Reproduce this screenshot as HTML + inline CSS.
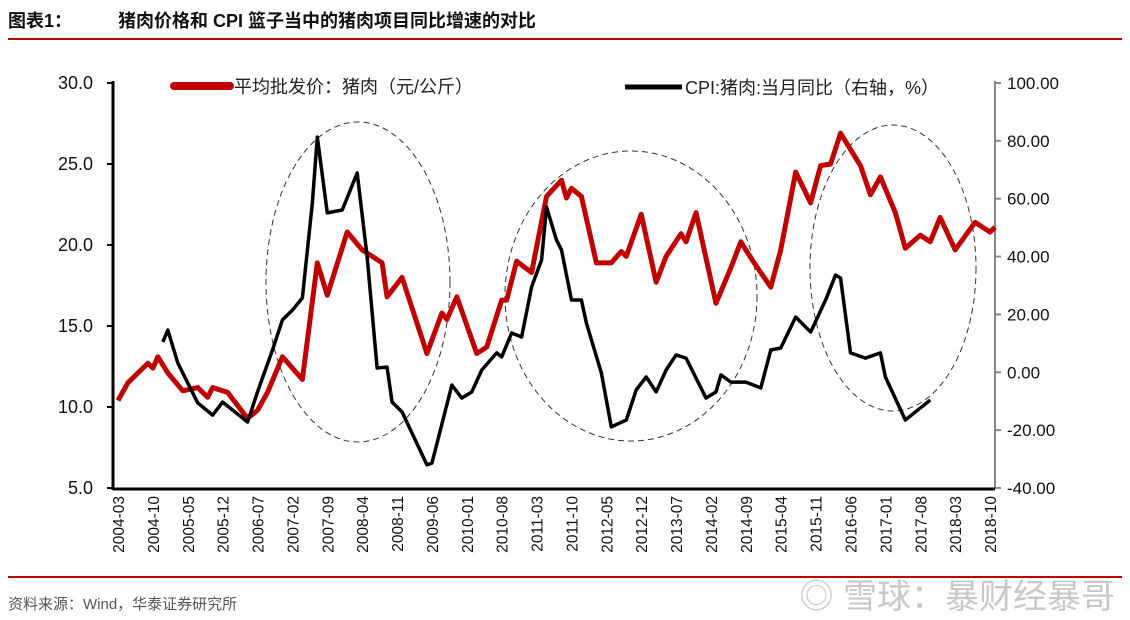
<!DOCTYPE html>
<html><head><meta charset="utf-8">
<style>
body{margin:0;background:#fff;width:1130px;height:620px;overflow:hidden;font-family:"Liberation Sans","Noto Sans CJK SC",sans-serif;}
svg{position:absolute;left:0;top:0}
</style></head>
<body>
<svg id="c" width="1130" height="620">
<text x="8" y="27" font-size="18" font-weight="bold" fill="#111" font-family="Liberation Sans, Noto Sans CJK SC, sans-serif">图表1：<tspan x="118">猪肉价格和 CPI 篮子当中的猪肉项目同比增速的对比</tspan></text>
<line x1="8" y1="39" x2="1122" y2="39" stroke="#c00000" stroke-width="2"/>
<line x1="8" y1="577" x2="1122" y2="577" stroke="#c00000" stroke-width="2"/>
<text x="8" y="609" font-size="15" fill="#555" font-family="Liberation Sans, Noto Sans CJK SC, sans-serif">资料来源：Wind，华泰证券研究所</text>
<text x="1115" y="608" text-anchor="end" font-size="34" fill="#c8c8c8" font-family="Liberation Sans, Noto Sans CJK SC, sans-serif">◎ 雪球：暴财经暴哥</text>
</svg>
<script>
const xLabels=["2004-03","2004-10","2005-05","2005-12","2006-07","2007-02","2007-09","2008-04","2008-11","2009-06","2010-01","2010-08","2011-03","2011-10","2012-05","2012-12","2013-07","2014-02","2014-09","2015-04","2015-11","2016-06","2017-01","2017-08","2018-03","2018-10"];
const leftTicks=[5,10,15,20,25,30];
const rightTicks=[-40,-20,0,20,40,60,80,100];
const redMonths=[0,2,6,7,8,10,13,16,18,19,22,26,28,30,33,37,40,42,46,49,53,54,57,62,65,66,68,72,74,77,78,80,83,86,89,90,91,93,96,99,101,102,105,108,110,113,114,116,120,123,125,127,131,133,136,139,141,143,145,148,149,151,153,156,158,161,163,165,168,172,175,176];
const redValues=[10.4,11.5,12.7,12.4,13.1,12.1,11.0,11.2,10.6,11.2,10.9,9.3,9.8,10.9,13.1,11.7,18.9,16.9,20.8,19.7,18.9,16.8,18.0,13.3,15.8,15.4,16.8,13.3,13.7,16.6,16.6,19.0,18.3,23.0,24.0,22.9,23.5,23.0,18.9,18.9,19.6,19.3,21.9,17.7,19.3,20.7,20.2,22.0,16.4,18.6,20.2,19.2,17.4,19.7,24.5,22.6,24.9,25.0,26.9,25.4,24.9,23.1,24.2,22.0,19.8,20.6,20.2,21.7,19.7,21.4,20.8,21.1];
const cpiMonths=[9,10,12,16,19,21,26,28,31,33,35,37,39,40,42,45,48,50,52,54,55,57,62,63,67,69,71,73,76,77,79,81,83,85,86,88,89,91,93,94,97,99,102,104,106,108,110,112,114,118,120,121,123,126,129,131,133,136,139,142,144,145,147,150,153,154,158,163];
const cpiValues=[10.5,14.6,3.2,-10.6,-14.8,-10.3,-17.2,-6.8,7.7,18.1,21.5,25.7,58.5,81.3,55.1,56.1,68.9,39.9,1.5,1.8,-10.3,-13.7,-32.0,-31.4,-4.4,-8.9,-6.8,0.8,6.7,5.3,13.6,12.2,29.5,38.8,57.1,45.7,42.3,25.0,25.0,17.0,-0.2,-18.9,-16.5,-6.1,-1.6,-6.8,0.8,6.0,4.9,-8.9,-6.8,-0.9,-3.4,-3.4,-5.4,7.7,8.4,19.1,13.9,25.0,33.6,32.6,6.7,4.9,6.7,-1.6,-16.5,-9.6];
const NS="http://www.w3.org/2000/svg";
const svg=document.getElementById('c');
const X0=118,MS=4.983,YT=83,YB=488,AXL=113,AXR=995;
const xm=m=>X0+m*MS;
const yl=v=>YB-(v-5)/25*(YB-YT);
const yr=v=>YB-(v+40)/140*(YB-YT);
function mk(t,a,txt){const e=document.createElementNS(NS,t);for(const k in a)e.setAttribute(k,a[k]);if(txt!==undefined)e.textContent=txt;svg.appendChild(e);return e;}
const F="Liberation Sans, Noto Sans CJK SC, sans-serif";
[[358,282,92,160],[631,296,126,145],[893,268,83,143]].forEach((c,i)=>{
 const e=mk('ellipse',{cx:c[0],cy:c[1],rx:c[2],ry:c[3],fill:'none',stroke:'#333','stroke-width':1,'stroke-dasharray':'6,4'});
 
 
});
let a=mk('line',{x1:AXL,y1:YT-2,x2:AXL,y2:YB+2,stroke:'#000','stroke-width':3});

a=mk('line',{x1:AXR,y1:YT-2,x2:AXR,y2:YB,stroke:'#888','stroke-width':2});

a=mk('line',{x1:AXL,y1:YB+1,x2:AXR,y2:YB+1,stroke:'#000','stroke-width':3});

leftTicks.forEach(v=>{
 const t=mk('line',{x1:AXL-6,y1:yl(v),x2:AXL,y2:yl(v),stroke:'#000','stroke-width':2});
 
 const l=mk('text',{x:AXL-20,y:yl(v)+6,'text-anchor':'end','font-size':18,'font-family':F,fill:'#111'},v.toFixed(1));
 
});
rightTicks.forEach(v=>{
 const t=mk('line',{x1:AXR,y1:yr(v),x2:AXR+6,y2:yr(v),stroke:'#888','stroke-width':2});
 
 const l=mk('text',{x:AXR+12,y:yr(v)+6,'font-size':17,'font-family':F,fill:'#111'},v.toFixed(2));
 
});
xLabels.forEach((s,i)=>{
 const x=xm(i*7);
 const l=mk('text',{x:0,y:0,transform:`translate(${x+6},${YB+8}) rotate(-90)`,'text-anchor':'end','font-size':15.5,'font-family':F,fill:'#111'},s);
 
});
let p=mk('polyline',{points:redMonths.map((m,i)=>xm(m)+','+yl(redValues[i])).join(' '),fill:'none',stroke:'#c00000','stroke-width':5,'stroke-linejoin':'round'});

p=mk('polyline',{points:cpiMonths.map((m,i)=>xm(m)+','+yr(cpiValues[i])).join(' '),fill:'none',stroke:'#000','stroke-width':3.5,'stroke-linejoin':'round'});

let g=mk('line',{x1:174,y1:86,x2:230,y2:86,stroke:'#c00000','stroke-width':8,'stroke-linecap':'round'});

g=mk('text',{x:234,y:93,'font-size':18,'font-family':F,fill:'#222'},'平均批发价：猪肉（元/公斤）');

g=mk('line',{x1:625,y1:87,x2:682,y2:87,stroke:'#000','stroke-width':5});

g=mk('text',{x:685,y:94,'font-size':18,'font-family':F,fill:'#222'},'CPI:猪肉:当月同比（右轴，%）');

</script>
</body></html>
